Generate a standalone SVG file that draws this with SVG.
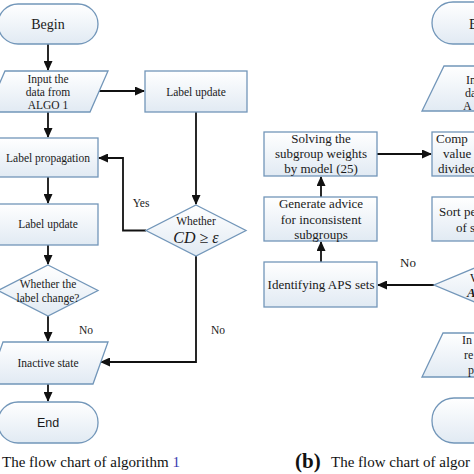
<svg xmlns="http://www.w3.org/2000/svg" width="474" height="474" viewBox="0 0 474 474">
<style>
.n{fill:url(#g);stroke:#7296b9;stroke-width:1.3}
.t{font-family:"Liberation Serif",serif;font-size:11.5px;fill:#1a1a1a;text-anchor:middle}
.r{font-family:"Liberation Serif",serif;font-size:13px;fill:#1a1a1a;text-anchor:middle}
.s{font-family:"Liberation Serif",serif;font-size:13px;fill:#1a1a1a}
.p{font-family:"Liberation Serif",serif;font-size:12px;fill:#1a1a1a}
.c{fill:none;stroke:#111;stroke-width:1.8;marker-end:url(#a)}
.cap{font-family:"Liberation Serif",serif;font-size:15px;fill:#111}
</style>
<defs>
<linearGradient id="g" x1="0" y1="0" x2="0" y2="1">
<stop offset="0" stop-color="#ffffff"/>
<stop offset="1" stop-color="#e1eaf3"/>
</linearGradient>
<marker id="a" markerWidth="10" markerHeight="9" refX="9" refY="4.5" orient="auto" markerUnits="userSpaceOnUse">
<path d="M0,0 L10,4.5 L0,9 Z" fill="#111"/>
</marker>
</defs>
<rect width="474" height="474" fill="#ffffff"/>
<g id="connectors">
<path class="c" d="M48,44 V70"/>
<path class="c" d="M48,112 V137"/>
<path class="c" d="M48,177 V203"/>
<path class="c" d="M48,245 V264"/>
<path class="c" d="M48,316 V341"/>
<path class="c" d="M48,384 V401"/>
<path class="c" d="M99,91 H144"/>
<path class="c" d="M196,112 V204"/>
<path class="c" d="M146,230.5 H123 V158 H99"/>
<path class="c" d="M196,256 V362 H101"/>
<path class="c" d="M377,154 H431"/>
<path class="c" d="M321,197 V177"/>
<path class="c" d="M321,262 V242"/>
<path class="c" d="M434,285 H378"/>
<text class="t" x="141" y="207">Yes</text>
<text class="t" x="86" y="334">No</text>
<text class="t" x="218" y="334">No</text>
<text class="r" x="408" y="267">No</text>
</g>
<g id="begin1"><rect class="n" x="-2" y="4" width="100" height="40" rx="20"/><text class="t" style="font-size:14px" x="48" y="29">Begin</text></g>
<g id="input1"><polygon class="n" points="5,71 108,71 90,112 -13,112"/>
<text class="t" x="48" y="83">Input the</text><text class="t" x="48" y="96">data from</text><text class="t" x="48" y="109">ALGO 1</text></g>
<g id="labelupdate2"><rect class="n" x="145" y="71" width="102" height="41"/><text class="t" x="196" y="96">Label update</text></g>
<g id="labelprop"><rect class="n" x="-2" y="138" width="100" height="39"/><text class="t" x="48" y="162">Label propagation</text></g>
<g id="labelupdate1"><rect class="n" x="-2" y="204" width="100" height="41"/><text class="t" x="48" y="228">Label update</text></g>
<g id="change"><polygon class="n" points="48,265 98,290.5 48,316 -2,290.5"/>
<text class="t" x="48" y="288">Whether the</text><text class="t" x="48" y="302">label change?</text></g>
<g id="cd"><polygon class="n" points="196,205 246,230.5 196,256 146,230.5"/>
<text class="t" x="196" y="225">Whether</text><text class="t" style="font-size:16px;font-style:italic" x="196" y="243">CD ≥ ε</text></g>
<g id="inactive"><polygon class="n" points="3,342 108,342 93,384 -12,384"/><text class="t" x="48" y="367">Inactive state</text></g>
<g id="end1"><rect class="n" x="-2" y="402" width="100" height="41" rx="20"/><text class="t" style="font-family:'Liberation Sans',sans-serif;font-size:12.5px" x="48" y="427">End</text></g>
<g id="begin2"><rect class="n" x="432" y="2" width="100" height="42" rx="21"/><text class="s" style="font-size:14px" x="469" y="29">B</text></g>
<g id="input2"><polygon class="n" points="444,66 560,66 538,111 422,111"/>
<text class="p" x="466" y="84">In</text><text class="p" x="465" y="97">da</text><text class="p" x="463" y="110">A</text></g>
<g id="compute"><rect class="n" x="432" y="132" width="100" height="44"/>
<text class="s" x="436" y="143">Comp</text><text class="s" x="443" y="158">value</text><text class="s" x="438" y="173">divided</text></g>
<g id="solving"><rect class="n" x="264" y="132" width="113" height="44"/>
<text class="r" x="321" y="143">Solving the</text><text class="r" x="321" y="158">subgroup weights</text><text class="r" x="321" y="173">by model (25)</text></g>
<g id="generate"><rect class="n" x="264" y="197" width="113" height="44"/>
<text class="r" x="321" y="208">Generate advice</text><text class="r" x="321" y="224">for inconsistent</text><text class="r" x="321" y="239">subgroups</text></g>
<g id="identify"><rect class="n" x="264" y="262" width="113" height="45"/><text class="r" x="321" y="289">Identifying APS sets</text></g>
<g id="sort"><rect class="n" x="432" y="197" width="100" height="44"/>
<text class="s" x="439" y="216">Sort pe</text><text class="s" x="456" y="232">of s</text></g>
<g id="whether2"><polygon class="n" points="489,262 544,285 489,308 434,285"/>
<text class="s" x="470" y="282">W</text><text class="s" style="font-style:italic;font-weight:bold" x="467" y="297">A</text></g>
<g id="input3"><polygon class="n" points="443,333 560,333 540,377 422,377"/>
<text class="p" x="462" y="344">In</text><text class="p" x="464" y="359">re</text><text class="p" x="468" y="374">p</text></g>
<g id="end2"><rect class="n" x="432" y="398" width="100" height="45" rx="22"/></g>
<text class="cap" x="2" y="467">The flow chart of algorithm <tspan fill="#3a3ab0">1</tspan></text>
<text class="cap" x="295" y="468" style="font-size:21px;font-weight:bold">(b)</text>
<text class="cap" x="331" y="467">The flow chart of algor</text>
</svg>
